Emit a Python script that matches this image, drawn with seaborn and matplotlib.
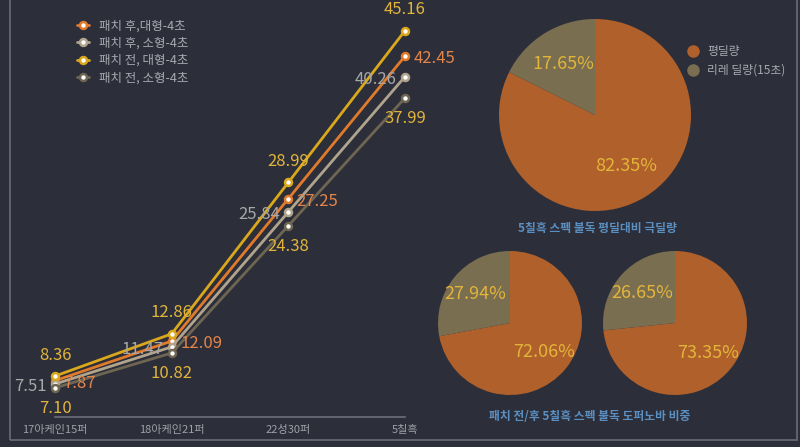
import matplotlib
matplotlib.use("Agg")
import matplotlib.pyplot as plt
import seaborn as sns
import pandas as pd
from matplotlib.patches import Rectangle
from matplotlib.lines import Line2D

sns.set_theme(style="dark")
plt.rcParams["font.family"] = ["Noto Sans CJK KR", "DejaVu Sans"]

BG = "#2c2e3a"

categories = ["17아케인15퍼", "18아케인21퍼", "22성30퍼", "5칠흑"]
series_names = ["패치 후,대형-4초", "패치 후, 소형-4초", "패치 전, 대형-4초", "패치 전, 소형-4초"]
after_large = [7.87, 12.09, 27.25, 42.45]
after_small = [7.51, 11.47, 25.84, 40.26]
before_large = [8.36, 12.86, 28.99, 45.16]
before_small = [7.10, 10.82, 24.38, 37.99]

pie_main_labels = ["평딜량", "리레 딜량(15초)"]
pie_main = [82.35, 17.65]
pie_before = [72.06, 27.94]
pie_after = [73.35, 26.65]

line_colors = ["#e07b2c", "#b0a58c", "#d9a81c", "#6e6652"]
label_colors = ["#e4854a", "#a8a8a8", "#e2b53a", "#e2b53a"]
offsets = [(6, -2, "left", "center"), (-6, -2, "right", "center"),
           (0, 9, "center", "bottom"), (0, -9, "center", "top")]

fig = plt.figure(figsize=(8, 4.47), dpi=100)
fig.patch.set_facecolor(BG)
fig.patches.append(Rectangle((10 / 800, 7 / 447), 787 / 800, 450 / 447, transform=fig.transFigure,
                             fill=False, edgecolor="#6a6c76", linewidth=1.2))

df = pd.DataFrame({"x": list(range(4)) * 4,
                   "value": after_large + after_small + before_large + before_small,
                   "series": [s for s in series_names for _ in range(4)]})

ax = fig.add_axes([55 / 800, 30 / 447, 350 / 800, 413 / 447])
ax.set_facecolor(BG)
for i, name in enumerate(series_names):
    sub = df[df["series"] == name]
    sns.lineplot(data=sub, x="x", y="value", ax=ax, color=line_colors[i], linewidth=2,
                 marker="o", markersize=5, markerfacecolor="white",
                 markeredgecolor=line_colors[i], markeredgewidth=1.8, label=name, clip_on=False)
    dx, dy, ha, va = offsets[i]
    for xv, yv in zip(sub["x"], sub["value"]):
        ax.annotate(f"{yv:.2f}", (xv, yv), xytext=(dx, dy), textcoords="offset points",
                    ha=ha, va=va, color=label_colors[i], fontsize=12)
ax.set_xlim(0, 3)
ax.set_ylim(4, 48)
ax.set_yticks([])
ax.set_xticks(range(4))
ax.set_xticklabels(categories, color="#a0a0a8", fontsize=8)
ax.set_xlabel("")
ax.set_ylabel("")
for s in ["top", "left", "right"]:
    ax.spines[s].set_visible(False)
ax.spines["bottom"].set_color("#6a6c76")
ax.tick_params(axis="x", length=0, pad=6)
ax.legend(loc="upper left", bbox_to_anchor=(0.03, 0.99), frameon=False, fontsize=9,
          labelcolor="#a8a8b0", handlelength=1.0, labelspacing=0.35)

pie_colors = ["#b0602a", "#7a6e50"]
txt = dict(color="#e2b53a", fontsize=13)


def draw_pie(cx, cy, r, vals):
    pa = fig.add_axes([(cx - r) / 800, 1 - (cy + r) / 447, 2 * r / 800, 2 * r / 447])
    pa.pie(vals, colors=pie_colors, startangle=90, counterclock=False,
           autopct="%.2f%%", pctdistance=0.62, textprops=txt,
           wedgeprops=dict(linewidth=0))
    pa.set_xlim(-1, 1)
    pa.set_ylim(-1, 1)
    pa.set_aspect("equal")
    return pa


pa1 = draw_pie(595, 115, 96, pie_main)
handles = [Line2D([], [], marker="o", linestyle="", markersize=8, color=c) for c in pie_colors]
pa1.legend(handles, pie_main_labels, loc="upper left", bbox_to_anchor=(0.93, 0.92), frameon=False,
           fontsize=8.5, labelcolor="#a8a8b0", handlelength=0.8, labelspacing=0.5)
fig.text(597 / 800, 1 - 228 / 447, "5칠흑 스펙 불독 평딜대비 극딜량", ha="center", va="center",
         color="#5b8fc0", fontsize=8.5, fontweight="bold")
draw_pie(510, 323, 72, pie_before)
draw_pie(675, 323, 72, pie_after)
fig.text(590 / 800, 1 - 416 / 447, "패치 전/후 5칠흑 스펙 불독 도퍼노바 비중", ha="center", va="center",
         color="#5b8fc0", fontsize=8.5, fontweight="bold")

fig.savefig("out.png", dpi=100, facecolor=BG)
